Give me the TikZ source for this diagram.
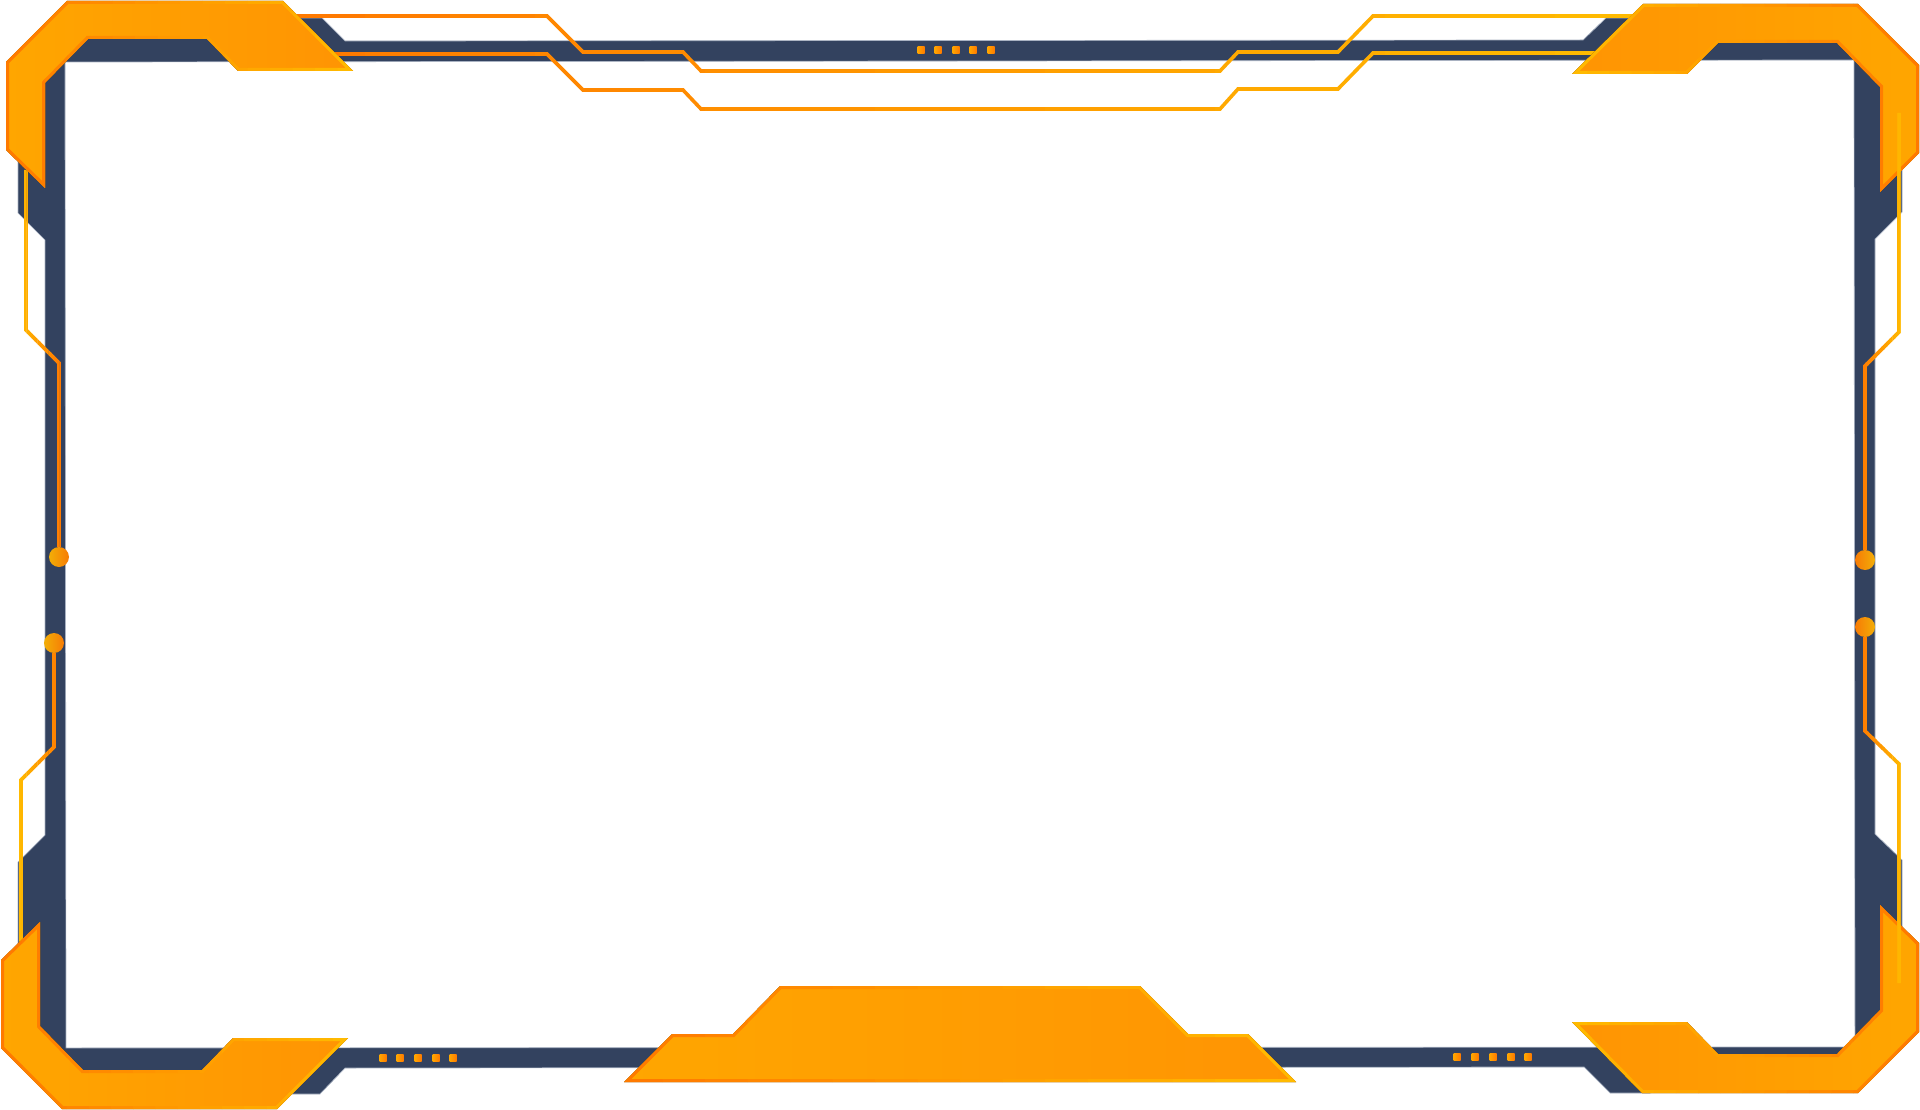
\documentclass[tikz,border=0pt]{standalone}
\usepackage{tikz}

\definecolor{navyband}{HTML}{33425F}
\definecolor{navyedge}{HTML}{A9B2C2}
\definecolor{goldlight}{HTML}{FFA600}
\definecolor{golddark}{HTML}{FF9403}
\definecolor{edgeorange}{HTML}{FF7A00}
\definecolor{edgeyellow}{HTML}{FFBA00}
\definecolor{padyellow}{HTML}{F2AE07}
\definecolor{padorange}{HTML}{F77C05}

% stroke whose colour runs from left to right: x0, x1, left colour, right colour, options, path
\newcommand{\gradpath}[6]{%
    \foreach \bandi in {0,...,15} {
        \pgfmathsetmacro\bandl{#1+(#2-#1)/16*\bandi}
        \pgfmathsetmacro\bandr{#1+(#2-#1)/16*(\bandi+1)+0.4}
        \pgfmathsetmacro\bandpct{\bandi/15*100}
        \begin{scope}
            \clip (\bandl,-10) rectangle (\bandr,1120);
            \draw[draw=#4!\bandpct!#3, #5] #6;
        \end{scope}
    }
}

% gold plate with its edge kept inside: x0, x1, fill left, fill right, edge left, edge right, path
\newcommand{\goldplate}[7]{%
    \fill[left color=#3, right color=#4] #7;
    \begin{scope}
        \clip #7;
        \gradpath{#1}{#2}{#5}{#6}{plateline}{#7}
    \end{scope}
}

\begin{document}
\begin{tikzpicture}[
        x=1pt, y=-1pt,
        plateline/.style={line width=6pt, miter limit=10},
        wire/.style={line width=3.6pt},
        padleft/.style={circle, inner sep=0pt, minimum size=20pt, left color=padyellow, right color=padorange},
        padright/.style={circle, inner sep=0pt, minimum size=20pt, left color=padorange, right color=padyellow},
        dotbox/.style={rectangle, inner sep=0pt, minimum size=7pt, left color=goldlight, right color=edgeorange}
    ]
    \useasboundingbox (0,0) rectangle (1920,1110);

    % Frame
    \path[fill=navyband, draw=navyedge, line width=0.7pt, even odd rule]
        (18,155) -- (18,213) -- (45,240) -- (45,835) -- (18,862) -- (18,1000) -- (30,1040)
        -- (100,1085) -- (290,1094) -- (320,1094) -- (345,1068) -- (1584,1067) -- (1610,1093)
        -- (1650,1093) -- (1700,1080) -- (1860,1075) -- (1902,1000) -- (1902,860) -- (1875,834)
        -- (1875,239) -- (1902,212) -- (1902,155) -- (1890,60) -- (1860,30) -- (1650,30)
        -- (1633,18) -- (1606,18) -- (1583,40) -- (345,41) -- (322,18) -- (295,18)
        -- (100,20) -- (30,60) -- cycle
        (65,62) -- (1854,60) -- (1855,1047) -- (66,1048) -- cycle;

    % Dots
    \foreach \dotx [count=\doti] in {921,938,956,973,991} {
        \node[dotbox] (dottop\doti) at (\dotx,50) {};
    }
    \foreach \dotx [count=\doti] in {383,400,418,436,453} {
        \node[dotbox] (dotleft\doti) at (\dotx,1058) {};
    }
    \foreach \dotx [count=\doti] in {1457,1475,1493,1511,1528} {
        \node[dotbox] (dotright\doti) at (\dotx,1057) {};
    }

    % Wires at the top
    \gradpath{280}{1640}{edgeorange}{edgeyellow}{wire}{(290,16) -- (547,16) -- (583,52) -- (683,52) -- (701,71) -- (1220,71) -- (1238,52) -- (1338,52) -- (1373,16) -- (1633,16)}
    \gradpath{280}{1640}{edgeorange}{edgeyellow}{wire}{(325,54) -- (547,54) -- (583,90) -- (683,90) -- (701,109) -- (1220,109) -- (1238,89) -- (1338,89) -- (1373,53) -- (1600,53)}

    % Pads
    \node[padleft] (padlu) at (59,557) {};
    \node[padleft] (padld) at (54,643) {};
    \node[padright] (padru) at (1865,560) {};
    \node[padright] (padrd) at (1865,627) {};

    % Wires on the left
    \gradpath{18}{62}{edgeyellow}{edgeorange}{wire}{(26,170) -- (26,330) -- (59,363) -- (padlu.north)}
    \gradpath{18}{62}{edgeyellow}{edgeorange}{wire}{(padld.south) -- (54,747) -- (21,780) -- (21,950)}

    % Corners and bottom plate
    \goldplate{0}{360}{goldlight}{golddark}{edgeorange}{edgeyellow}{(6,62) -- (67,1) -- (283,1) -- (353,71) -- (238,71) -- (207,39) -- (88,39) -- (45,83) -- (45,188) -- (6,150) -- cycle}
    \goldplate{1565}{1920}{golddark}{goldlight}{edgeyellow}{edgeorange}{(1643,4) -- (1858,4) -- (1919,65) -- (1919,153) -- (1880,192) -- (1880,87) -- (1837,43) -- (1718,43) -- (1687,74) -- (1572,74) -- cycle}
    \goldplate{0}{355}{goldlight}{golddark}{edgeorange}{edgeyellow}{(40,922) -- (40,1026) -- (83,1070) -- (202,1070) -- (233,1038) -- (348,1038) -- (277,1109) -- (62,1109) -- (1,1048) -- (1,960) -- cycle}
    \goldplate{1565}{1920}{golddark}{goldlight}{edgeyellow}{edgeorange}{(1880,905) -- (1919,943) -- (1919,1032) -- (1858,1093) -- (1642,1093) -- (1572,1022) -- (1687,1022) -- (1718,1054) -- (1837,1054) -- (1880,1010) -- cycle}
    \goldplate{620}{1300}{goldlight}{golddark}{edgeorange}{edgeyellow}{(624,1082) -- (672,1034) -- (733,1034) -- (780,986) -- (1140,986) -- (1188,1034) -- (1248,1034) -- (1296,1082) -- cycle}

    % Wires on the right
    \gradpath{1860}{1903}{edgeorange}{edgeyellow}{wire}{(1899,113) -- (1899,332) -- (1865,366) -- (padru.north)}
    \gradpath{1860}{1903}{edgeorange}{edgeyellow}{wire}{(padrd.south) -- (1865,731) -- (1899,764) -- (1899,983)}

\end{tikzpicture}
\end{document}
